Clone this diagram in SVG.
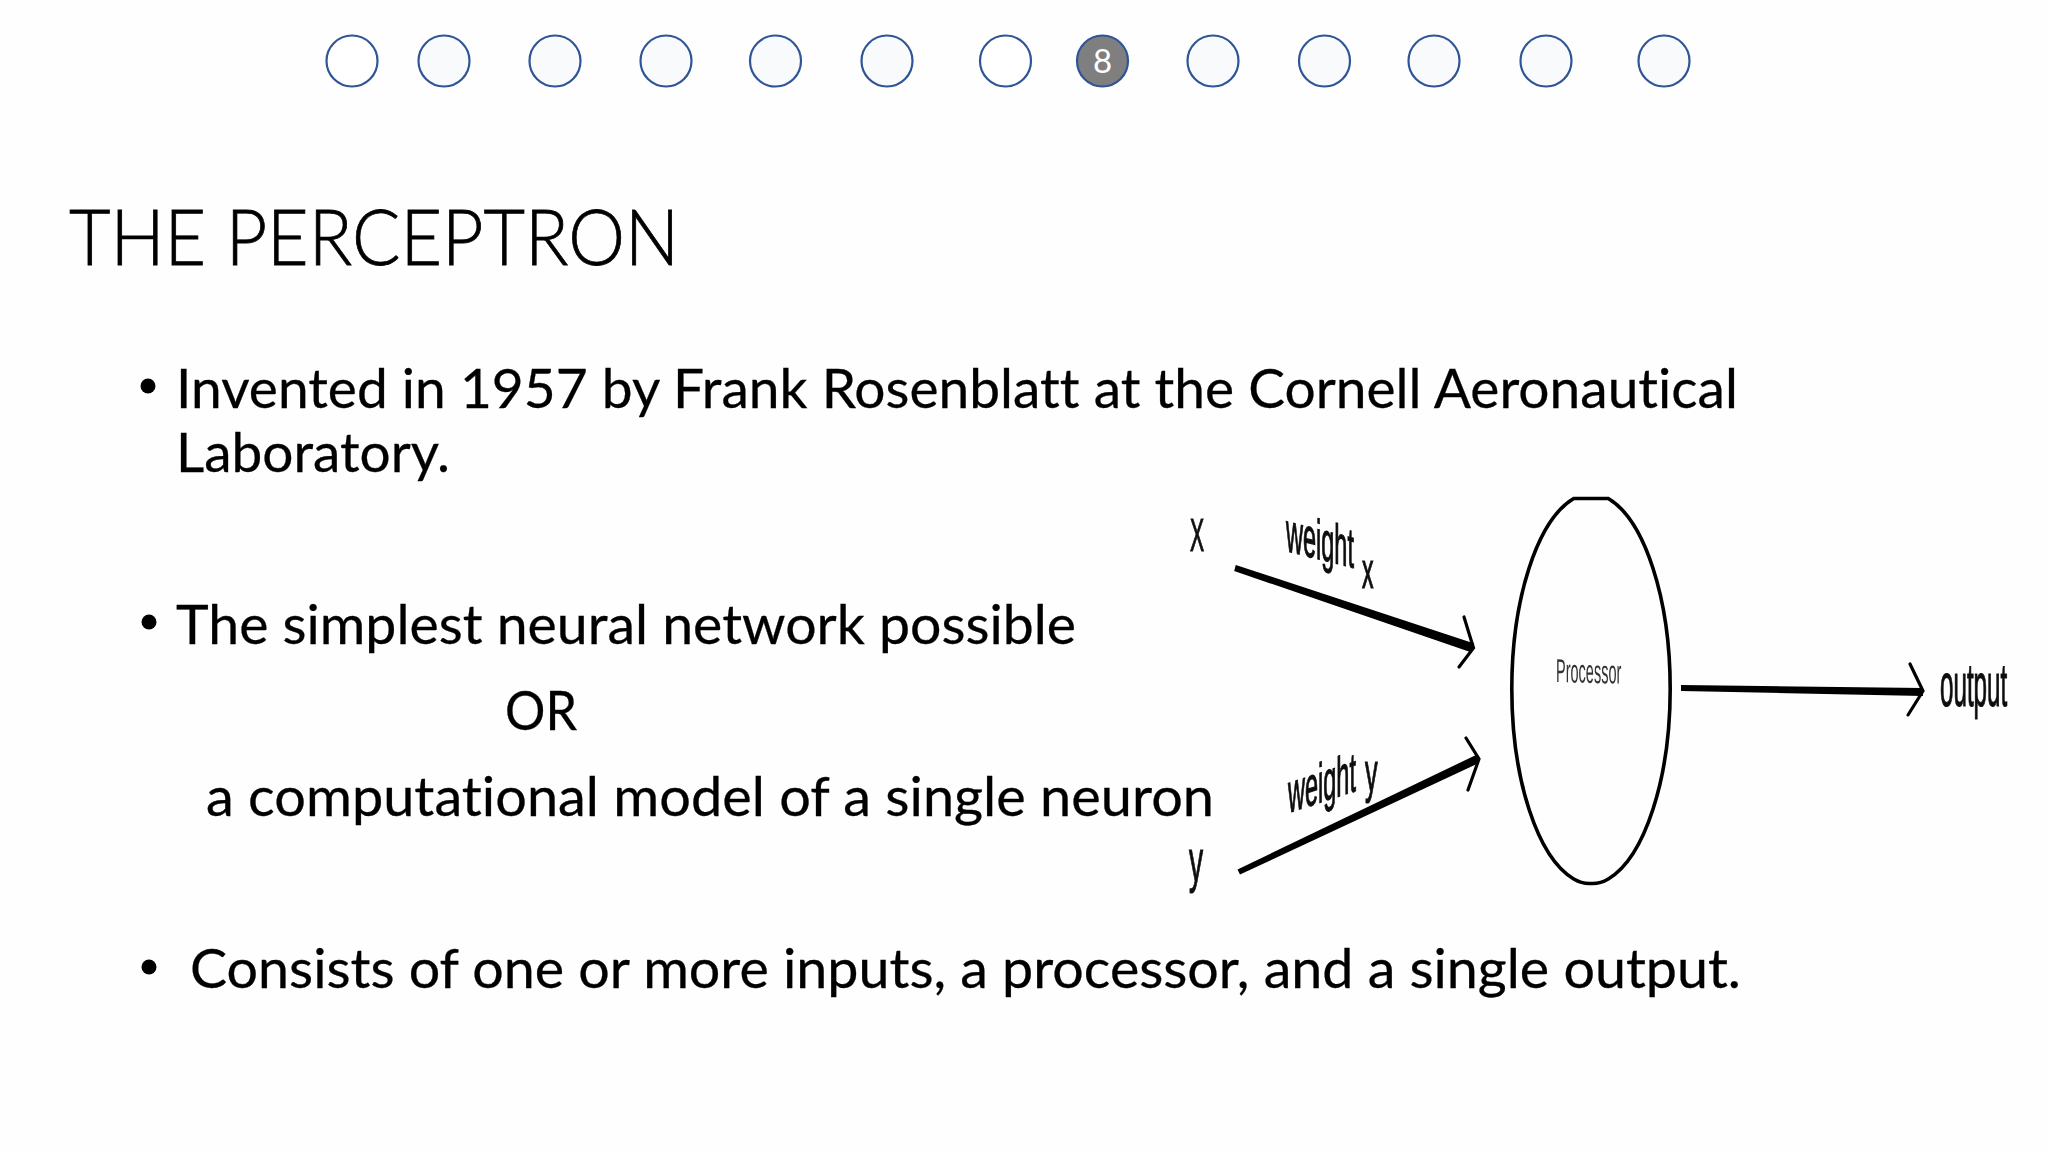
<svg xmlns="http://www.w3.org/2000/svg" width="2048" height="1152" viewBox="0 0 2048 1152">
<style>
text{font-variant-ligatures:none}
.b{font-family:Lato,"Open Sans",sans-serif;font-size:55px;fill:#000;stroke:#000;stroke-width:0.3}
.s{font-family:"Liberation Sans",Arial,sans-serif;fill:#111;stroke:#111;stroke-width:1.2}
.dot{stroke:#2f5597;stroke-width:2.2;fill:#f9fafc}
.dw{stroke:#2f5597;stroke-width:2.2;fill:#fff}
.bul{fill:#000}
.head{fill:none;stroke:#000;stroke-width:3.2;stroke-linecap:round;stroke-linejoin:miter}
</style>
<defs><filter id="soft" x="-5%" y="-5%" width="110%" height="110%"><feGaussianBlur stdDeviation="0.6"/></filter></defs>
<rect width="2048" height="1152" fill="#fefefe"/>
<g id="nav">
<circle class="dw" cx="352" cy="61" r="25.5"/>
<circle class="dot" cx="444" cy="61" r="25.5"/>
<circle class="dot" cx="555" cy="61" r="25.5"/>
<circle class="dot" cx="666" cy="61" r="25.5"/>
<circle class="dot" cx="775.500" cy="61" r="25.5"/>
<circle class="dot" cx="887" cy="61" r="25.5"/>
<circle class="dw" cx="1005.5" cy="61" r="25.5"/>
<circle cx="1102.5" cy="61" r="25.5" fill="#7f7f7f" stroke="#2f5597" stroke-width="2.2"/>
<text x="1102.5" y="73" text-anchor="middle" font-family="Lato,sans-serif" font-size="33" fill="#fff">8</text>
<circle class="dot" cx="1213" cy="61" r="25.5"/>
<circle class="dot" cx="1324.5" cy="61" r="25.5"/>
<circle class="dot" cx="1434" cy="61" r="25.5"/>
<circle class="dot" cx="1546" cy="61" r="25.5"/>
<circle class="dot" cx="1664" cy="61" r="25.5"/>
</g>
<text id="title" x="69" y="265" font-family="Lato,sans-serif" font-weight="300" font-size="76" fill="#000" stroke="#000" stroke-width="0.8" textLength="610" lengthAdjust="spacingAndGlyphs">THE PERCEPTRON</text>
<g id="body">
<circle class="bul" cx="148" cy="386" r="7.5"/>
<text class="b" x="176" y="408" textLength="1562" lengthAdjust="spacingAndGlyphs">Invented in 1957 by Frank Rosenblatt at the Cornell Aeronautical</text>
<text class="b" x="176" y="472" textLength="274" lengthAdjust="spacingAndGlyphs">Laboratory.</text>
<circle class="bul" cx="149" cy="622" r="7.5"/>
<text class="b" x="176" y="644" textLength="900" lengthAdjust="spacingAndGlyphs">The simplest neural network possible</text>
<text class="b" x="505" y="730" textLength="72" lengthAdjust="spacingAndGlyphs">OR</text>
<text class="b" x="206" y="816" textLength="1008" lengthAdjust="spacingAndGlyphs">a computational model of a single neuron</text>
<circle class="bul" cx="149" cy="967" r="7.5"/>
<text class="b" x="190" y="988" textLength="1551" lengthAdjust="spacingAndGlyphs">Consists of one or more inputs, a processor, and a single output.</text>
</g>
<g id="processor" filter="url(#soft)">
<path d="M1573.700 498.500H1608.300A81.500 196 0 0 1 1608.300 879Q1600 884 1591 883.500Q1582 884 1573.700 879A81.500 196 0 0 1 1573.700 498.500Z" fill="none" stroke="#000" stroke-width="3.600"/>
<text transform="translate(1556,682) skewY(1.500) scale(.44,1)" font-family="Liberation Sans,sans-serif" font-size="33" fill="#333">Processor</text>
</g>
<g id="input-x" filter="url(#soft)">
<text class="s" transform="translate(1190,551) scale(.45,1)" font-size="47">X</text>
</g>
<g id="input-y" filter="url(#soft)">
<text class="s" transform="translate(1189,881) scale(.47,1)" font-size="60">y</text>
</g>
<g id="label-weight-x" filter="url(#soft)">
<text class="s" transform="translate(1286,551) skewY(14) scale(.42,1)" font-size="56">weight</text>
<text class="s" transform="translate(1362,588) scale(.46,1)" font-size="50">x</text>
</g>
<g id="label-weight-y" filter="url(#soft)">
<text class="s" transform="translate(1288,813) skewY(-18) scale(.42,1)" font-size="56">weight</text>
<text class="s" transform="translate(1365,791) scale(.46,1)" font-size="55">y</text>
</g>
<g id="label-output" filter="url(#soft)">
<text class="s" transform="translate(1940,706) scale(.39,1)" font-size="62">output</text>
</g>
<g id="connectors" filter="url(#soft)">
<path d="M1235.800 565L1234.200 571L1471.700 652.500L1474.300 643.500Z" fill="#000"/>
<polyline class="head" points="1464,617 1473.500,648 1459,667"/>
<path d="M1237.500 869.500L1240 874.500L1479 763L1476 755Z" fill="#000"/>
<polyline class="head" points="1466,738 1479,759 1468,790"/>
<path d="M1681 685L1923 688L1923 696L1681 691Z" fill="#000"/>
<polyline class="head" points="1910,664 1923,691 1908,715"/>
</g>
</svg>
